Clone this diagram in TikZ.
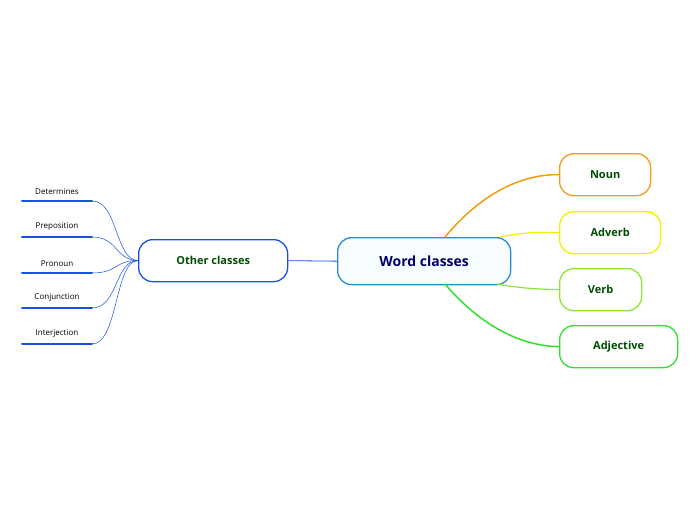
\documentclass[tikz,border=0pt]{standalone}
\usepackage{fontspec}
\setmainfont{Open Sans}
\begin{document}
\begin{tikzpicture}[x=1pt,y=-1pt,
  box/.style={draw,line width=1.3pt,rounded corners=14pt,fill=white,font=\bfseries\fontsize{11}{13}\selectfont,text=green!30!black,anchor=north west,inner sep=0pt},
  leaf/.style={font=\fontsize{8}{10}\selectfont,anchor=south},
  uline/.style={draw=blue!80!cyan!70!black,line width=2pt,line cap=round},
  con/.style={draw=blue!70!cyan,line width=0.6pt}]
\useasboundingbox (0,0) rectangle (696,520);
\definecolor{cblue}{HTML}{2A8CCF}
\definecolor{oblue}{HTML}{1A4FE0}
\definecolor{corange}{HTML}{F39C12}
\definecolor{cyellow}{HTML}{F0F000}
\definecolor{cverd}{HTML}{8CE830}
\definecolor{cgreen}{HTML}{30E030}
% central
\node[box,draw=cblue,fill=cyan!3,minimum width=173pt,minimum height=47pt,text=blue!40!black,font=\bfseries\fontsize{14}{16}\selectfont] (wc) at (337,237) {Word classes};
\node[box,draw=oblue,minimum width=149pt,minimum height=42pt] (oc) at (138,239) {Other classes};
\node[box,draw=corange,minimum width=91pt,minimum height=42pt] (noun) at (559,153) {Noun};
\node[box,draw=cyellow,minimum width=101pt,minimum height=42pt] (adv) at (559,211) {Adverb};
\node[box,draw=cverd,minimum width=82pt,minimum height=42pt] (verb) at (559,268) {Verb};
\node[box,draw=cgreen,minimum width=118pt,minimum height=42pt] (adj) at (559,325) {Adjective};
% right connectors
\coordinate (wn) at (445,237); \coordinate (wa) at (500,237);
\coordinate (wv) at (497,284); \coordinate (wj) at (445,284);
\draw[corange,line width=1.5pt] (wn) .. controls (480,195) and (520,174) .. (noun.west);
\draw[cyellow,line width=1.2pt] (wa) .. controls (525,232) and (540,232) .. (adv.west);
\draw[cverd,line width=1.2pt] (wv) .. controls (525,289) and (540,289) .. (verb.west);
\draw[cgreen,line width=1.5pt] (wj) .. controls (480,325) and (520,346) .. (adj.west);
\draw[oblue,line width=0.8pt] (oc.east) -- (wc.west);
% leaves
\foreach \n/\t/\y in {l1/Determines/201,l2/Preposition/237,l3/Pronoun/273,l4/Conjunction/308,l5/Interjection/344}{
  \coordinate (\n a) at (22,\y); \coordinate (\n b) at (92,\y);
  \draw[oblue,line width=2pt,line cap=round] (\n a) -- (\n b);
  \node[leaf] (\n) at (57,\y-3) {\t};
  \draw[oblue,line width=0.5pt] (oc.west) .. controls (115,260) and (118,\y) .. (\n b);
}
\end{tikzpicture}
\end{document}
